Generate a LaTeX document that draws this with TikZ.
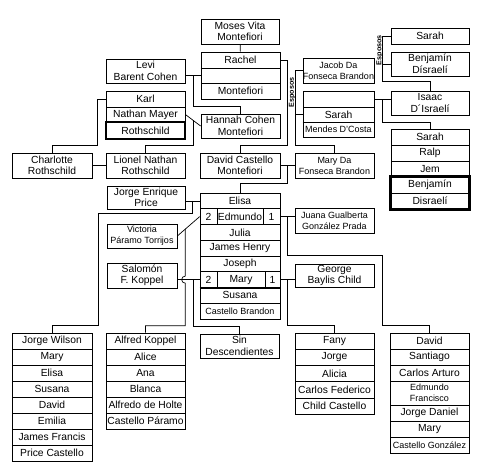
\documentclass[tikz,border=0pt]{standalone}
\usepackage{fontspec}
\setmainfont{Liberation Sans}
\usetikzlibrary{calc}

\begin{document}
\begin{tikzpicture}[x=1pt,y=-1pt,
  box/.style={draw,line width=0.7pt,inner sep=0pt,align=center,minimum height=16pt,font=\fontsize{10.3}{11.5}\selectfont},
  smalltext/.style={font=\fontsize{9}{11}\selectfont},
  esposos/.style={rotate=90,inner sep=0pt,font=\fontsize{7.2}{8}\selectfont\bfseries},
  link/.style={line width=0.7pt},
  heavy/.style={line width=2.6pt}]
\fill[white] (0,0) rectangle (480,466);
\useasboundingbox (0,0) rectangle (480,466);

% first generations
\node[box,minimum width=78pt,minimum height=25pt] (moses) at (240,31.5) {Moses Vita\\Montefiori};
\node[box,minimum width=79pt] (rachel) at (240.5,60) {Rachel};
\node[box,minimum width=79pt,minimum height=15pt] (rachelb) at (240.5,75.5) {};
\node[box,minimum width=79pt] (rachelc) at (240.5,91) {Montefiori};
\draw[line width=1.6pt] (rachel.south west) -- (rachel.south east);
\node[box,minimum width=79pt,minimum height=24pt] (levi) at (145.5,71) {Levi\\Barent Cohen};
\node[box,minimum width=79pt] (karl) at (145.5,99) {Karl};
\node[box,minimum width=79pt,minimum height=15pt] (nathan) at (145.5,114.5) {Nathan Mayer};
\node[box,heavy,minimum width=79pt,minimum height=17pt] (roth) at (145.5,130.5) {Rothschild};
\node[box,minimum width=79pt,minimum height=24pt] (hannah) at (240.5,126) {Hannah Cohen\\Montefiori};

\node[box,smalltext,minimum width=71pt,minimum height=25pt] (jacob) at (338.5,70.5) {Jacob Da\\Fonseca Brandon};
\node[box,minimum width=71pt] (sar1) at (338.5,99) {};
\node[box,minimum width=71pt,minimum height=15pt] (sar2) at (338.5,114.5) {Sarah};
\node[box,smalltext,minimum width=71pt,minimum height=15pt] (sar3) at (338.5,129.5) {Mendes D'Costa};
\draw[line width=1.6pt] (sar2.south west) -- (sar2.south east);

\node[box,minimum width=78pt] (sarahR) at (430,36) {Sarah};
\node[box,minimum width=78pt,minimum height=24pt] (benj) at (430,64) {Benjamín\\Dísraelí};
\node[box,minimum width=78pt,minimum height=24pt] (isaac) at (430,103) {Isaac\\D´Israelí};
\foreach \n [count=\i] in {Sarah,Ralp,Jem,Benjamín,Disraelí}
  \node[box,minimum width=78pt] (dis\i) at (430,121+16*\i) {\n};
\draw[heavy] (dis4.north west) rectangle (dis5.south east);

% middle
\node[box,minimum width=80pt,minimum height=25pt] (charlotte) at (52,165.5) {Charlotte\\Rothschild};
\node[box,minimum width=79pt,minimum height=25pt] (lionel) at (145.5,165.5) {Lionel Nathan\\Rothschild};
\node[box,minimum width=80pt,minimum height=25pt] (davidc) at (240,165.5) {David Castello\\Montefiori};
\node[box,smalltext,minimum width=79pt,minimum height=25pt] (maryda) at (334.5,165.5) {Mary Da\\Fonseca Brandon};

\node[box,minimum width=78pt,minimum height=23pt] (price) at (146,197.5) {Jorge Enrique\\Price};
\node[box,smalltext,minimum width=70pt,minimum height=24pt] (victoria) at (142,236) {Victoria\\Páramo Torrijos};
\node[box,minimum width=70pt,minimum height=25pt] (salomon) at (142,275.5) {Salomón\\F. Koppel};
\node[box,smalltext,minimum width=79pt,minimum height=25pt] (juana) at (334.5,220.5) {Juana Gualberta\\González Prada};
\node[box,minimum width=79pt,minimum height=23pt] (george) at (334.5,275.5) {George\\Baylis Child};

\foreach \n [count=\i] in {Elisa,{},Julia,James Henry,Joseph,{},Susana,{\fontsize{9}{11}\selectfont Castello Brandon}}
  \node[box,minimum width=80pt,minimum height=15.75pt] (eli\i) at (240,185.125+15.75*\i) {\n};
\node[box,minimum width=17pt,minimum height=15.75pt] (edm2) at (208.5,216.625) {2};
\node[box,minimum width=46pt,minimum height=15.75pt] (edm) at (240,216.625) {Edmundo};
\node[box,minimum width=17pt,minimum height=15.75pt] (edm1) at (271.5,216.625) {1};
\node[box,minimum width=17pt,minimum height=15.75pt] (mar2) at (208.5,279.625) {2};
\node[box,minimum width=48pt,minimum height=15.75pt] (mar) at (241,279.625) {Mary};
\node[box,minimum width=15pt,minimum height=15.75pt] (mar1) at (272.5,279.625) {1};
\draw[line width=1.6pt] (eli6.south west) -- (eli6.south east);

% last generation
\foreach \n [count=\i] in {Jorge Wilson,Mary,Elisa,Susana,David,Emilia,James Francis,Price Castello}
  \node[box,minimum width=80pt] (wil\i) at (52,325+16*\i) {\n};
\foreach \n [count=\i] in {Alfred Koppel,Alice,Ana,Blanca,Alfredo de Holte,Castello Páramo}
  \node[box,minimum width=79pt] (kop\i) at (145.5,325+16*\i) {\n};
\node[box,minimum width=79pt,minimum height=24pt] (sin) at (239.5,346) {Sin\\Descendientes};
\foreach \n [count=\i] in {Fany,Jorge,Alicia,Carlos Federico,Child Castello}
  \node[box,minimum width=79pt,minimum height=16.2pt] (chi\i) at (334.5,325+16.2*\i) {\n};
\foreach \n/\y/\i in {David/341/1,Santiago/357/2,Carlos Arturo/373/3,Jorge Daniel/413/5,Mary/429/6}
  \node[box,minimum width=79pt] (dav\i) at (429.5,\y) {\n};
\node[box,smalltext,minimum width=79pt,minimum height=24pt] (dav4) at (429.5,393) {Edmundo\\Francisco};
\node[box,smalltext,minimum width=79pt] (dav7) at (429.5,445) {Castello González};

% marriages and descent
\draw[link] (moses) -- (rachel);
\draw[link] (levi.east |- rachelb) -- (rachelb.west);
\draw[link] ($(levi.east |- rachelb)!.5!(rachelb.west)$) |- ($(hannah.north)+(0,-7)$) -- (hannah.north);
\draw[link] (rachel.east) -- ++(7,0) |- ($(davidc.north)+(0,-7)$) -- (davidc.north);
\draw[link] (nathan.east) -- (hannah.west);
\draw[link] ($(nathan.east)!.5!(hannah.west)$) |- ($(lionel.north)+(0,-7)$) -- (lionel.north);
\draw[link] (karl.west) -- ++(-8,0) |- ($(charlotte.north)+(0,-7)$) -- (charlotte.north);
\draw[link] (charlotte) -- (lionel);

\coordinate (b1) at ($(jacob.west)+(-7,0)$);
\draw[link] (jacob.west) -- (b1) |- (sar2.west);
\draw[link] (b1) |- ($(maryda.north)+(0,-7)$) -- (maryda.north);
\node[esposos] (esp1) at ($(b1)!.5!(b1 |- sar2)+(-3.5,0)$) {Esposos};

\coordinate (b2) at ($(sarahR.west)+(-8,0)$);
\draw[link] (sarahR.west) -- (b2) |- (benj.west);
\draw[link] (b2) |- ($(isaac.north)+(0,-9)$) -- (isaac.north);
\node[esposos] (esp2) at ($(b2)!.5!(b2 |- benj)+(-3,0)$) {Esposos};

\draw[link] (sar1.east) -- (isaac.west |- sar1);
\draw[link] ($(sar1.east)!.5!(isaac.west |- sar1)$) |- ($(dis1.north)+(0,-6)$) -- (dis1.north);

\draw[link] (davidc) -- (maryda);
\draw[link] ($(davidc.east)!.5!(maryda.west)$) |- ($(eli1.north)+(0,-9)$) -- (eli1.north);

\draw[link] (price.east |- eli1) -- (eli1.west);
\draw[link] ($(price.east |- eli1)!.5!(eli1.west)$) -- ++(0,12) -| ($(wil1.north)+(46,-7)$) -| (wil1.north);

\draw[link] (victoria.east) -- (edm2.west);
\coordinate (v1) at ($(victoria.east)!.35!(edm2.west)$);
\draw[link] (v1) -- ($(v1 |- mar2)+(0,-3.5)$) arc[start angle=90,end angle=270,radius=3.5pt] -- ($(v1 |- kop1.north)+(0,-7)$) -| (kop1.north);

\draw[link] (salomon.east |- mar2) -- (mar2.west);
\draw[link] ($(salomon.east |- mar2)!.7!(mar2.west)$) |- ($(sin.north)+(0,-7)$) -- (sin.north);

\draw[link] (edm1.east) -- (juana.west |- edm1);
\draw[link] ($(edm1.east)!.5!(juana.west |- edm1)$) -- ++(0,39) -| ($(dav1.north)+(-47,-7)$) -| (dav1.north);

\draw[link] (mar1.east) -- (george.west |- mar1);
\draw[link] ($(mar1.east)!.5!(george.west |- mar1)$) |- ($(chi1.north)+(0,-7)$) -- (chi1.north);
\end{tikzpicture}
\end{document}
